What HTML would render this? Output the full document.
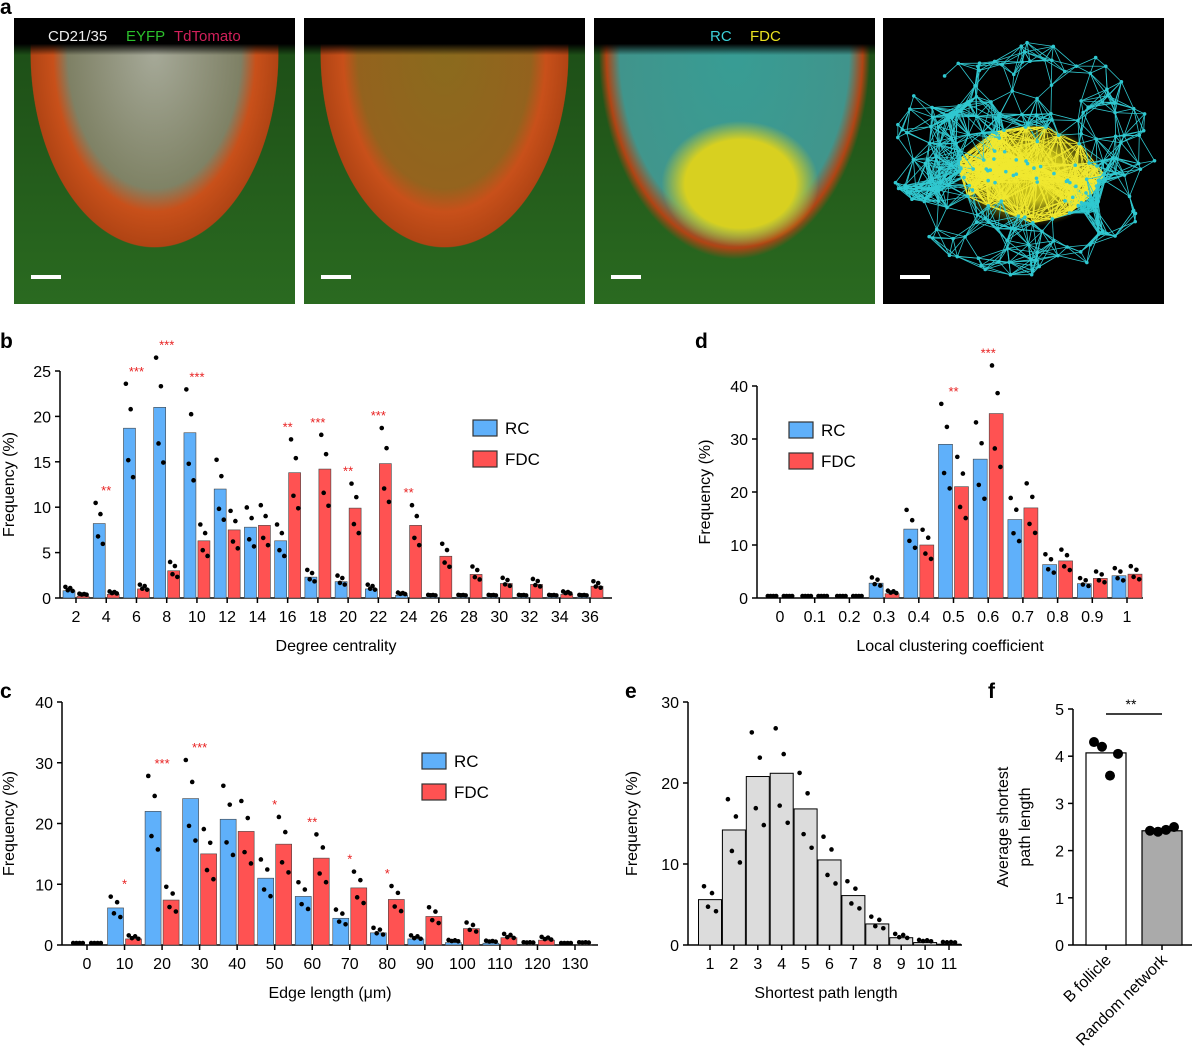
<!DOCTYPE html>
<html><head><meta charset="utf-8">
<style>
body{margin:0;background:#fff;width:1200px;height:1059px;overflow:hidden;position:relative;font-family:"Liberation Sans",sans-serif}
.img{position:absolute;top:18px;height:286px;width:281px;background:#000;overflow:hidden}
.lab{position:absolute;font-size:15px}
.pl{position:absolute;font-weight:bold;font-size:21px}
svg{position:absolute;left:0;top:0}
</style></head><body>
<div class="pl" style="left:0;top:-4px">a</div>
<div class="img" style="background:linear-gradient(#000 0,#000 9%,transparent 13%),radial-gradient(ellipse 44% 68% at 50% 12%,rgba(190,185,175,.85) 0,rgba(150,140,120,.8) 70%,#c8501a 82%,#b04414 100%,transparent 100.5%),linear-gradient(#1c4c16,#2a6a20);left:14px">
<span class="lab" style="left:34px;top:10px;color:#eee">CD21/35</span><span class="lab" style="left:112px;top:10px;color:#2bc02b">EYFP</span><span class="lab" style="left:160px;top:10px;color:#d0205a">TdTomato</span>
<div style="position:absolute;left:17px;bottom:25px;width:30px;height:4px;background:#fff"></div></div>
<div class="img" style="left:304px;background:linear-gradient(#000 0,#000 9%,transparent 13%),radial-gradient(ellipse 44% 68% at 50% 12%,rgba(150,110,30,.9) 0,rgba(160,100,30,.9) 70%,#c8501a 82%,#b04414 100%,transparent 100.5%),linear-gradient(#1c4c16,#2a6a20)">
<div style="position:absolute;left:17px;bottom:25px;width:30px;height:4px;background:#fff"></div></div>
<div class="img" style="left:594px;background:linear-gradient(#000 0,#000 9%,transparent 13%),radial-gradient(ellipse 28% 22% at 52% 58%,#d8d020 70%,transparent 100%),radial-gradient(ellipse 48% 72% at 50% 12%,rgba(60,170,170,.85) 0,rgba(70,160,160,.85) 85%,#b04414 95%,transparent 100.5%),linear-gradient(#1c4c16,#2a6a20)">
<span class="lab" style="left:116px;top:10px;color:#3cd0d8">RC</span><span class="lab" style="left:156px;top:10px;color:#e8e020">FDC</span>
<div style="position:absolute;left:17px;bottom:25px;width:30px;height:4px;background:#fff"></div></div>
<div class="img" style="left:883px;background:radial-gradient(ellipse 26% 18% at 52% 55%,rgba(232,224,32,.85) 50%,transparent 100%),#000">
<div style="position:absolute;left:17px;bottom:25px;width:30px;height:4px;background:#fff"></div></div>

<div class="pl" style="left:0;top:330px">b</div>
<div class="pl" style="left:695px;top:330px">d</div>
<div class="pl" style="left:0;top:680px">c</div>
<div class="pl" style="left:625px;top:680px">e</div>
<div class="pl" style="left:988px;top:680px">f</div>
<svg id="s" width="1200" height="1059"></svg>
<script>
// Panel b
const bCats=[2,4,6,8,10,12,14,16,18,20,22,24,26,28,30,32,34,36];
const bRC=[0.8,8.2,18.7,21.0,18.2,12.0,7.8,6.3,2.3,1.8,1.0,0.3,0.1,0.1,0.1,0.1,0.1,0.1];
const bFDC=[0.2,0.4,1.0,3.0,6.3,7.5,8.0,13.8,14.2,9.9,14.8,8.0,4.6,2.6,1.6,1.5,0.4,1.3];
const bStars=['','**','***','***','***','','','**','***','**','***','**','','','','','',''];
const bTicks=[0,5,10,15,20,25];
// Panel d
const dCats=['0','0.1','0.2','0.3','0.4','0.5','0.6','0.7','0.8','0.9','1'];
const dRC=[0,0,0,2.8,13.0,29.0,26.2,14.8,6.3,2.7,4.2];
const dFDC=[0,0,0,0.8,10.0,21.0,34.8,17.0,7.0,3.7,4.5];
const dStars=['','','','','','**','***','','','',''];
const dTicks=[0,10,20,30,40];
// Panel c
const cCats=[0,10,20,30,40,50,60,70,80,90,100,110,120,130];
const cRC=[0,6.1,22.0,24.1,20.7,11.0,8.0,4.4,2.0,1.0,0.4,0.3,0.1,0];
const cFDC=[0,1.0,7.4,15.0,18.7,16.6,14.3,9.4,7.5,4.7,2.7,1.2,0.8,0.1];
const cStars=['','*','***','***','','*','**','*','*','','','','',''];
const cTicks=[0,10,20,30,40];
// Panel e
const eCats=[1,2,3,4,5,6,7,8,9,10,11];
const eVals=[5.6,14.2,20.8,21.2,16.8,10.5,6.1,2.6,0.9,0.3,0.1];
const eTicks=[0,10,20,30];
// Panel f
const fCats=['B follicle','Random network'];
const fVals=[4.07,2.42];
const fTicks=[0,1,2,3,4,5];

const S=document.getElementById('s');const NS='http://www.w3.org/2000/svg';
function el(t,a,txt){const e=document.createElementNS(NS,t);for(const k in a)e.setAttribute(k,a[k]);if(txt!==undefined)e.textContent=txt;S.appendChild(e);return e;}
const BLUE='#5fb0fa',RED='#ff5252';
function spread(v,i){const o=[1.25,0.8,1.1,0.7][i];return v*o;}
function axes(o){
  const y=v=>o.y0-(v-o.vmin)*(o.y0-o.y1)/(o.vmax-o.vmin);
  let e=el('line',{x1:o.ax,y1:o.y1,x2:o.ax,y2:o.y0,stroke:'#000','stroke-width':1.5});
  
  e=el('line',{x1:o.ax,y1:o.y0,x2:o.xe,y2:o.y0,stroke:'#000','stroke-width':1.5});
  
  o.ticks.forEach(t=>{el('line',{x1:o.ax-5,x2:o.ax,y1:y(t),y2:y(t),stroke:'#000','stroke-width':1.5});
    e=el('text',{x:o.ax-9,y:y(t)+6,'text-anchor':'end','font-size':16},t);
    });
  e=el('text',{transform:`translate(${o.tx},${(o.y0+o.y1)/2}) rotate(-90)`,'text-anchor':'middle','font-size':16},o.yt);
  
  return y;
}
function grouped(o,cats,rc,fdc,stars){
  const y=axes(o);const step=(o.xl-o.xf)/(cats.length-1);const bw=o.bw;
  cats.forEach((c,i)=>{const cx=o.xf+i*step;
    el('line',{x1:cx,x2:cx,y1:o.y0,y2:o.y0+5,stroke:'#000','stroke-width':1.5});
    let e=el('text',{x:cx,y:o.y0+24,'text-anchor':'middle','font-size':16},c);
    
    [[rc[i],BLUE,cx-bw-1,'rc'],[fdc[i],RED,cx+1,'fdc']].forEach(([v,col,x,s])=>{
      e=el('rect',{x:x,y:y(v),width:bw,height:o.y0-y(v),fill:col,stroke:'#444','stroke-width':0.6});
      
      for(let k=0;k<4;k++){const dv=spread(v,k);
        e=el('circle',{cx:x+bw*(0.2+0.2*k),cy:y(dv)-2,r:2.3,fill:'#000'});
        }
    });
    if(stars[i]){e=el('text',{x:cx,y:y(Math.max(rc[i],fdc[i])*1.25)-10,'text-anchor':'middle','font-size':13,fill:'#e82020'},stars[i]);
      }
  });
  let e=el('text',{x:(o.ax+o.xe)/2,y:o.y0+53,'text-anchor':'middle','font-size':16},o.xt);
  
  [[BLUE,'RC',o.ly],[RED,'FDC',o.ly+31]].forEach(([c,t,yy])=>{
    let r=el('rect',{x:o.lx,y:yy,width:24,height:16,fill:c,stroke:'#333','stroke-width':1.2});
    
    r=el('text',{x:o.lx+32,y:yy+14,'font-size':17},t);
    });
}
grouped({n:'b',ax:60,xe:612,y0:598,y1:371,vmin:0,vmax:25,ticks:bTicks,xf:76,xl:590,bw:12,tx:14,yt:'Frequency (%)',xt:'Degree centrality',lx:473,ly:420},bCats,bRC,bFDC,bStars);
grouped({n:'d',ax:757,xe:1143,y0:598,y1:386,vmin:0,vmax:40,ticks:dTicks,xf:780,xl:1127,bw:14,tx:710,yt:'Frequency (%)',xt:'Local clustering coefficient',lx:789,ly:422},dCats,dRC,dFDC,dStars);
grouped({n:'c',ax:62,xe:598,y0:945,y1:702,vmin:0,vmax:40,ticks:cTicks,xf:87,xl:575,bw:16,tx:14,yt:'Frequency (%)',xt:'Edge length (\u03bcm)',lx:422,ly:753},cCats,cRC,cFDC,cStars);
// e
(function(){const o={n:'e',ax:688,xe:962,y0:945,y1:702,vmin:0,vmax:30,ticks:eTicks,tx:637,yt:'Frequency (%)'};
 const y=axes(o);const step=(949-710)/(eCats.length-1);
 eCats.forEach((c,i)=>{const cx=710+i*step;
  let e=el('rect',{x:cx-11.5,y:y(eVals[i]),width:23,height:o.y0-y(eVals[i]),fill:'#dcdcdc',stroke:'#000','stroke-width':1});
  
  el('line',{x1:cx,x2:cx,y1:o.y0,y2:o.y0+5,stroke:'#000','stroke-width':1.5});
  e=el('text',{x:cx,y:o.y0+24,'text-anchor':'middle','font-size':16},c);
  
  for(let k=0;k<4;k++){e=el('circle',{cx:cx-6+4*k,cy:y(spread(eVals[i],k))-2,r:2.3,fill:'#000'});
   }
 });
 let e=el('text',{x:826,y:998,'text-anchor':'middle','font-size':16},'Shortest path length');
 
})();
// f
(function(){const o={n:'f',ax:1073,xe:1192,y0:945,y1:709,vmin:0,vmax:5,ticks:fTicks,tx:1008,yt:''};
 const y=axes(o);
 let e=el('text',{transform:'translate(1008,827) rotate(-90)','text-anchor':'middle','font-size':16},'Average shortest');
 
 e=el('text',{transform:'translate(1030,827) rotate(-90)','text-anchor':'middle','font-size':16},'path length');
 
 const cols=['#fff','#aaa'];const dots=[[4.3,4.2,3.8,4.05],[2.42,2.4,2.44,2.5]];
 fCats.forEach((c,i)=>{const cx=1106+i*56;
  e=el('rect',{x:cx-20,y:y(fVals[i]),width:40,height:o.y0-y(fVals[i]),fill:cols[i],stroke:'#000','stroke-width':1.2});
  
  el('line',{x1:cx,x2:cx,y1:o.y0,y2:o.y0+5,stroke:'#000','stroke-width':1.5});
  dots[i].forEach((v,k)=>{e=el('circle',{cx:cx-12+8*k,cy:y(v)+(k==2&&i==0?10:0),r:5,fill:'#000'});
   });
  e=el('text',{transform:`translate(${cx+6},${o.y0+16}) rotate(-45)`,'text-anchor':'end','font-size':16},c);
  
 });
 el('line',{x1:1106,x2:1162,y1:714,y2:714,stroke:'#000','stroke-width':1.5});
 e=el('text',{x:1131,y:709,'text-anchor':'middle','font-size':14},'**');
 
})();
// network overlay on image 4 (decorative)
(function(){let s=7;const r=()=>{s=(s*9301+49297)%233280;return s/233280;};
 const pts=[];for(let i=0;i<230;i++){const a=r()*Math.PI*2,d=Math.sqrt(r());pts.push([1024+Math.cos(a)*d*132,158+Math.sin(a)*d*120]);}
 for(let i=0;i<pts.length;i++)for(let j=i+1;j<pts.length;j++){const dx=pts[i][0]-pts[j][0],dy=pts[i][1]-pts[j][1];
  const inner=Math.hypot(pts[i][0]-1030,(pts[i][1]-175)*1.5)<75&&Math.hypot(pts[j][0]-1030,(pts[j][1]-175)*1.5)<75;
  if(dx*dx+dy*dy<(inner?3000:1000)){
   el('line',{x1:pts[i][0],y1:pts[i][1],x2:pts[j][0],y2:pts[j][1],stroke:inner?'#f0e830':'#30c8d0','stroke-width':0.8});}}
 pts.forEach(p=>el('circle',{cx:p[0],cy:p[1],r:1.8,fill:'#30c8d0'}));
})();
</script>
</body></html>
